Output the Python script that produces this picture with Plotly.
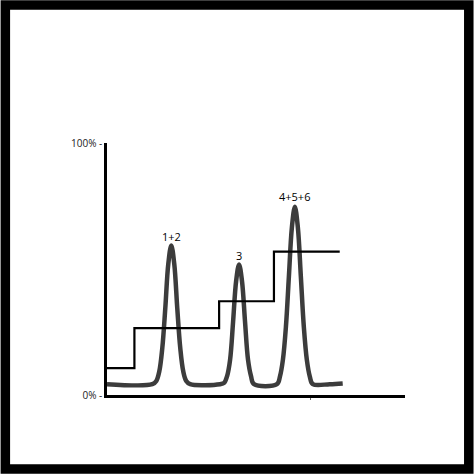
import plotly.graph_objects as go

# peak trace (x in axis units 0-299, y in %)
peak_x = [0, 45.5, 49.5, 52.5, 55.5, 58.5, 61.5, 64.5, 67.5, 70.5, 73.5, 76.5, 79.5, 83.5,
          113.5, 117.5, 120.5, 123.5, 126.5, 129.5, 132.5, 135.5, 138.5, 141.5, 144.5, 147.5,
          170.5, 173.5, 176.5, 179.5, 182.5, 185.5, 188.5, 191.5, 194.5, 197.5, 200.5, 203.5,
          206.5, 223.5, 236.5]
peak_y = [4.3, 4.3, 5.6, 9.4, 18.7, 34.5, 52, 59.3, 52, 34.5, 18.7, 9.4, 5.6, 4.3,
          4.3, 4.8, 7.5, 14, 29, 45, 51.8, 45, 29, 14, 7.5, 4.3,
          4.3, 7.3, 14, 27, 47, 66.5, 74.7, 66.5, 47, 27, 14, 7.3, 4.3, 4.3, 4.6]

# step trace
step_x = [0, 27.5, 112.5, 167.5, 233.5]
step_y = [10.7, 26.5, 37.2, 56.9, 56.9]

peak_labels = ["1+2", "3", "4+5+6"]
label_x = [64.5, 132.5, 188.5]
label_y = [62.8, 55.5, 78.6]

fig = go.Figure()
fig.add_trace(go.Scatter(x=peak_x, y=peak_y, mode="lines", line_shape="spline",
                         line=dict(color="#3c3c3c", width=4.5), hoverinfo="skip"))
fig.add_trace(go.Scatter(x=step_x, y=step_y, mode="lines", line_shape="hv",
                         line=dict(color="black", width=2.2), hoverinfo="skip"))

for t, x, y in zip(peak_labels, label_x, label_y):
    fig.add_annotation(x=x, y=y, text=t, showarrow=False, yanchor="middle",
                       font=dict(size=11, color="black", family="Open Sans"))

# black frame round the picture
L, T, W, H = 106.5, 143, 299, 252
def px(v):
    return (v - L) / W
def py(v):
    return (T + H - v) / H
fig.add_shape(type="rect", xref="paper", yref="paper",
              x0=px(4.5), x1=px(469.5), y0=py(469), y1=py(5),
              line=dict(color="black", width=9.5), layer="below")

fig.update_layout(
    width=474, height=474,
    margin=dict(l=L, r=474 - L - W, t=T, b=474 - T - H),
    plot_bgcolor="white", paper_bgcolor="white",
    showlegend=False,
    font=dict(family="Open Sans", size=10, color="#222222"),
)
fig.update_xaxes(range=[0, 299], showline=True, linecolor="black", linewidth=2.5,
                 showgrid=False, zeroline=False, tickvals=[204.5], ticktext=[""],
                 ticks="outside", ticklen=2, tickwidth=1, tickcolor="#666666")
fig.update_yaxes(range=[0, 100], showline=True, linecolor="black", linewidth=2.5,
                 showgrid=False, zeroline=False, tickvals=[0, 100],
                 ticktext=["0% -", "100% -"], ticks="", ticklen=0)

fig.write_html("out.html", config={"displayModeBar": False},
               post_script="document.body.style.margin='0px';")
